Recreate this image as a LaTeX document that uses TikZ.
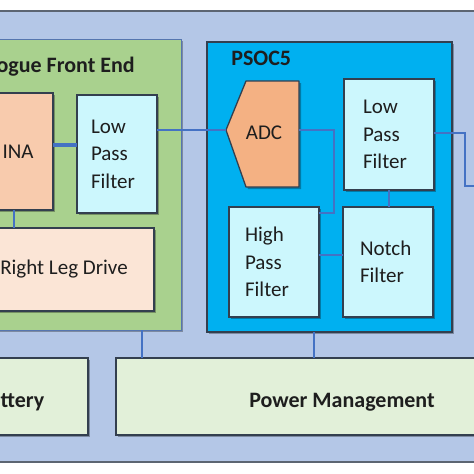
\documentclass[tikz,border=0pt]{standalone}
\usepackage{fontspec}
\setmainfont{Carlito}
\usetikzlibrary{shadows,calc}
\definecolor{bgblue}{HTML}{B4C7E7}
\definecolor{afegreen}{HTML}{A9D18E}
\definecolor{inasalmon}{HTML}{F8CBAD}
\definecolor{rldpeach}{HTML}{FBE5D6}
\definecolor{filtcyan}{HTML}{CCF7FD}
\definecolor{pwrgreen}{HTML}{E2F0D9}
\definecolor{psocblue}{HTML}{00B0F0}
\definecolor{adcorange}{HTML}{F4B183}
\definecolor{wireblue}{HTML}{4472C4}
\definecolor{edgedark}{HTML}{333F4F}
\definecolor{txtdark}{HTML}{1E1E1E}
\begin{document}
\begin{tikzpicture}[x=1pt,y=-1pt,
  every node/.style={outer sep=0pt,text=txtdark},
  shad/.style={drop shadow={shadow xshift=2pt,shadow yshift=-2pt,opacity=0.3,fill=black}},
  framebox/.style={rectangle,fill=bgblue,draw=edgedark!80,line width=1.4pt},
  groupbox/.style={rectangle,line width=1pt},
  blockbox/.style={rectangle,draw=edgedark,line width=1.3pt,shad,font=\fontsize{21}{27.5}\selectfont},
  filtbox/.style={blockbox,fill=filtcyan,align=left},
  titletxt/.style={font=\bfseries\fontsize{22}{26}\selectfont},
  pwrbox/.style={blockbox,fill=pwrgreen,font=\bfseries\fontsize{22}{26}\selectfont,text height=22pt,text depth=0pt},
  wire/.style={draw=wireblue,line width=1.5pt},
  thickwire/.style={draw=wireblue,line width=3.5pt},
  midwire/.style={draw=wireblue,line width=2.2pt}
]
\useasboundingbox (0,0) rectangle (474,474);
\fill[white] (0,0) rectangle (474,474);

% outer frame
\node[framebox,minimum width=490,minimum height=451] (frame) at (237,236.5) {};

% Analogue front end group
\node[groupbox,fill=afegreen,draw=wireblue!70!gray,minimum width=191,minimum height=291,shad] (afe) at (85.5,184.5) {};
\node[titletxt,anchor=base east] (afetitle) at (138,72) {Analogue Front End};

\node[blockbox,fill=inasalmon,minimum width=70,minimum height=117] (ina) at (18,151.5) {INA};
\node[filtbox,text width=52,inner xsep=14,minimum height=118] (lpfa) at (117,154) {Low\\Pass\\Filter};
\node[blockbox,fill=rldpeach,minimum width=180,minimum height=83] (rld) at (64,269.5) {Right Leg Drive};

% PSOC5 group
\node[groupbox,fill=psocblue,draw=edgedark,line width=1.3pt,minimum width=245,minimum height=290,shad] (psoc) at (329.5,187) {};
\node[titletxt,anchor=base west] (psoctitle) at (228,65) {PSOC5};

\node[rectangle,minimum width=73,minimum height=106] (adc) at (262.5,134) {};
\draw[fill=adcorange,draw=edgedark,line width=1.3pt,shad,line join=round]
  (adc.north east) -- (adc.south east) -- ($(adc.south west)+(20,0)$)
  -- ($(adc.west)+(0,-4)$) -- ($(adc.north west)+(20,0)$) -- cycle;
\node[font=\fontsize{21}{27.5}\selectfont] (adclabel) at ($(adc.center)+(1.5,-1)$) {ADC};

\node[filtbox,text width=52,inner xsep=19,minimum height=111] (lpfb) at (389,134.5) {Low\\Pass\\Filter};
\node[filtbox,text width=58,inner xsep=16,minimum height=110] (hpf) at (274,262) {High\\Pass\\Filter};
\node[filtbox,text width=56,inner xsep=17,minimum height=110] (notch) at (388,262) {Notch\\Filter};

% power
\node[pwrbox,minimum width=154,minimum height=77] (bat) at (11,396.5) {Battery};
\node[pwrbox,minimum width=452,minimum height=77] (pm) at (342,396.5) {Power Management};

% connectors
\draw[thickwire] (ina.east |- 0,145) -- (lpfa.west |- 0,145);
\draw[midwire] (lpfa.east |- 0,130) -- ($(adc.west)+(0,-4)$);
\coordinate (jhp) at (334,213);
\draw[wire] (adc.east |- 0,130) -| (jhp) -- (hpf.east |- jhp);
\draw[wire] (hpf.east |- 0,255) -- (notch.west |- 0,255);
\draw[wire] (lpfb.south) -- (lpfb.south |- notch.north);
\coordinate (outr) at (480,186);
\draw[wire] (lpfb.east |- 0,133) -| (465,186) -- (outr);
\draw[wire] (ina.south -| 14,0) -- (rld.north -| 14,0);
\draw[wire] (afe.south -| 142,0) -- (pm.north -| 142,0);
\draw[wire] (psoc.south -| 314,0) -- (pm.north -| 314,0);
\end{tikzpicture}
\end{document}
